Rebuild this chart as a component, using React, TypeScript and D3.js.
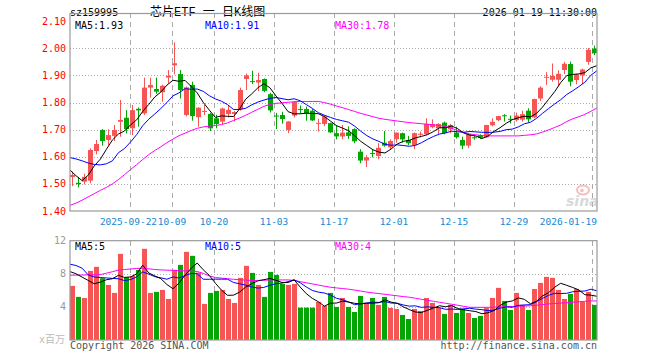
import React from "react";
import * as d3 from "d3";

// ---- data ----
const dates = [
  "2025-09-08","09-09","09-10","09-11","09-12","09-15","09-16","09-17","09-18","09-19",
  "2025-09-22","09-23","09-24","09-25","09-26","09-29","09-30","10-09","10-10","10-13",
  "10-14","10-15","10-16","10-17","10-20","10-21","10-22","10-23","10-24","10-27",
  "10-28","10-29","10-30","10-31","11-03","11-04","11-05","11-06","11-07","11-10",
  "11-11","11-12","11-13","11-14","11-17","11-18","11-19","11-20","11-21","11-24",
  "11-25","11-26","11-27","11-28","12-01","12-02","12-03","12-04","12-05","12-08",
  "12-09","12-10","12-11","12-12","12-15","12-16","12-17","12-18","12-19","12-22",
  "12-23","12-24","12-25","12-26","12-29","12-30","12-31","2026-01-05","01-06","01-07",
  "01-08","01-09","01-12","01-13","01-14","01-15","01-16","2026-01-19",
];
const tickIndex = [10, 17, 24, 34, 44, 54, 64, 74, 87];
const tickLabels = ["2025-09-22","10-09","10-20","11-03","11-17","12-01","12-15","12-29","2026-01-19"];

const opens = [
  1.525,1.504,1.508,1.512,1.621,1.699,1.662,1.677,1.729,1.744,
  1.705,1.777,1.760,1.855,1.850,1.838,1.892,1.937,1.905,1.754,
  1.865,1.746,1.766,1.758,1.742,1.730,1.758,1.758,1.775,1.887,
  1.879,1.874,1.887,1.831,1.752,1.754,1.699,1.752,1.776,1.776,
  1.770,1.722,1.721,1.724,1.687,1.675,1.690,1.702,1.619,1.586,
  1.614,1.603,1.652,1.635,1.665,1.687,1.662,1.643,1.681,1.683,
  1.709,1.705,1.726,1.701,1.689,1.662,1.641,1.672,1.680,1.672,
  1.716,1.735,1.753,1.740,1.735,1.737,1.770,1.745,1.815,1.892,
  1.884,1.884,1.920,1.942,1.883,1.900,1.950,1.999,
];
const highs = [
  1.545,1.526,1.538,1.631,1.662,1.702,1.701,1.717,1.809,1.772,
  1.791,1.782,1.892,1.892,1.892,1.866,1.920,2.022,1.920,1.859,
  1.877,1.783,1.791,1.762,1.755,1.781,1.790,1.769,1.855,1.907,
  1.917,1.910,1.889,1.836,1.762,1.766,1.731,1.804,1.789,1.785,
  1.776,1.740,1.754,1.726,1.717,1.717,1.712,1.705,1.628,1.606,
  1.628,1.650,1.695,1.664,1.690,1.689,1.677,1.689,1.693,1.742,
  1.738,1.724,1.730,1.721,1.711,1.674,1.685,1.680,1.683,1.718,
  1.742,1.751,1.757,1.752,1.763,1.770,1.779,1.814,1.860,1.912,
  1.944,1.919,1.950,1.951,1.906,1.925,2.001,2.010,
];
const lows = [
  1.492,1.487,1.498,1.502,1.609,1.641,1.643,1.658,1.674,1.686,
  1.680,1.711,1.754,1.818,1.832,1.803,1.871,1.904,1.815,1.749,
  1.733,1.711,1.754,1.695,1.705,1.718,1.745,1.730,1.770,1.846,
  1.868,1.842,1.838,1.763,1.702,1.722,1.687,1.745,1.760,1.733,
  1.732,1.693,1.713,1.688,1.664,1.665,1.666,1.650,1.576,1.562,
  1.598,1.591,1.637,1.625,1.652,1.652,1.643,1.628,1.672,1.680,
  1.705,1.680,1.683,1.687,1.667,1.628,1.632,1.663,1.666,1.670,
  1.712,1.731,1.730,1.723,1.730,1.730,1.727,1.742,1.806,1.865,
  1.877,1.862,1.905,1.860,1.867,1.868,1.939,1.975,
];
const closes = [
  1.533,1.499,1.526,1.625,1.647,1.658,1.680,1.699,1.736,1.702,
  1.772,1.771,1.855,1.865,1.840,1.862,1.899,1.945,1.846,1.856,
  1.750,1.781,1.769,1.705,1.721,1.778,1.773,1.765,1.846,1.900,
  1.876,1.883,1.843,1.771,1.749,1.739,1.730,1.802,1.773,1.760,
  1.734,1.725,1.749,1.690,1.675,1.689,1.677,1.657,1.586,1.598,
  1.612,1.633,1.641,1.658,1.689,1.664,1.650,1.687,1.685,1.721,
  1.721,1.721,1.687,1.717,1.672,1.641,1.683,1.670,1.670,1.717,
  1.729,1.750,1.750,1.738,1.752,1.757,1.738,1.813,1.855,1.895,
  1.898,1.906,1.943,1.877,1.904,1.922,1.995,1.982,
];
const volumes = [
  6.54,5.21,5.08,8.35,8.84,7.47,6.66,5.69,10.41,7.59,
  7.75,8.47,11.02,5.69,5.81,6.05,4.96,8.47,9.08,10.65,
  10.17,8.15,4.36,5.69,5.93,6.05,4.96,4.48,7.51,8.96,
  8.11,6.66,5.21,8.23,7.87,6.78,6.66,6.78,3.91,3.91,
  3.91,4.60,4.12,5.69,4.00,5.08,4.00,3.39,5.33,4.48,
  5.08,4.24,5.21,3.87,3.75,3.03,2.54,3.75,3.51,5.08,
  4.48,3.87,3.15,4.24,3.27,3.75,3.27,2.66,2.91,3.87,
  5.08,6.30,4.72,3.63,5.69,4.24,3.63,6.17,6.90,7.63,
  7.51,6.05,4.96,5.57,6.17,4.60,5.81,4.24,
];

// moving-average values visible before a full window exists
const ma5Lead = [1.551, 1.530, 1.512, 1.532];
const ma10Lead = [1.597, 1.592, 1.585, 1.577, 1.572, 1.570, 1.574, 1.585, 1.615];
const ma30Price = [
  1.421,1.429,1.440,1.452,1.464,1.476,1.487,1.500,1.516,1.534,
  1.553,1.571,1.590,1.608,1.623,1.637,1.652,1.665,1.678,1.687,
  1.697,1.705,1.710,1.713,1.715,1.719,1.725,1.734,1.743,1.753,
  1.764,1.775,1.786,1.793,1.797,1.799,1.801,1.803,1.804,1.804,
  1.804,1.804,1.800,1.794,1.787,1.781,1.774,1.767,1.760,1.754,
  1.748,1.742,1.738,1.735,1.732,1.729,1.726,1.724,1.722,1.720,
  1.718,1.715,1.712,1.705,1.697,1.690,1.684,1.681,1.678,1.677,
  1.677,1.677,1.677,1.677,1.677,1.679,1.681,1.684,1.691,1.699,
  1.708,1.717,1.730,1.740,1.748,1.756,1.768,1.780,
];
const volMa5Lead = [8.27, 8.0, 7.6, 7.2];
const volMa10Lead = [9.16, 9.0, 8.68, 7.87, 7.62, 7.55, 7.5, 7.45, 7.4];
const volMa30 = [
  7.83,7.84,7.85,7.87,7.88,7.90,8.07,8.25,8.44,8.52,
  8.58,8.64,8.66,8.60,8.52,8.47,8.44,8.42,8.39,8.36,
  8.32,8.28,8.05,7.75,7.55,7.48,7.40,7.34,7.29,7.24,
  7.19,7.20,7.22,7.25,7.26,7.26,7.26,7.20,7.05,6.92,
  6.78,6.64,6.50,6.37,6.29,6.22,6.14,6.03,5.91,5.79,
  5.69,5.61,5.52,5.43,5.34,5.25,5.17,5.05,4.92,4.80,
  4.68,4.56,4.44,4.32,4.20,4.07,3.95,3.95,3.95,3.95,
  3.97,4.00,4.03,4.05,4.08,4.10,4.13,4.20,4.28,4.36,
  4.41,4.46,4.51,4.56,4.62,4.68,4.72,4.72,
];

const priceTicks = [2.0, 1.9, 1.8, 1.7, 1.6, 1.5];
const priceLabels = [2.1, 2.0, 1.9, 1.8, 1.7, 1.6, 1.5, 1.4];
const volTicks = [8, 4];
const volLabels = [12, 8, 4];

const headerCode = "sz159995";
const headerTitle = "芯片ETF 一 日K线图";
const headerTime = "2026-01-19 11:30:00";
const maLegend = [
  { text: "MA5:1.93", color: "#000000" },
  { text: "MA10:1.91", color: "#0000ff" },
  { text: "MA30:1.78", color: "#ff00ff" },
];
const volLegend = [
  { text: "MA5:5", color: "#000000" },
  { text: "MA10:5", color: "#0000ff" },
  { text: "MA30:4", color: "#ff00ff" },
];

function movingAvg(values: number[], n: number, lead: number[]) {
  return values.map((_, i) =>
    i < n - 1 ? lead[i] : (d3.mean(values.slice(i - n + 1, i + 1)) as number)
  );
}

const RED = "#f65555";
const GREEN = "#06a506";
const GRID = "#aaaaaa";
const MONO = "'DejaVu Sans Mono', monospace";

export default function App() {
  const n = closes.length;
  const x = d3.scaleLinear().domain([0, n]).range([70, 598]);
  const xl = d3.scaleLinear().domain([0, n - 1]).range([70, 597]);
  const y = d3.scaleLinear().domain([1.4, 2.1]).range([211, 21.2]);
  const yv = d3.scaleLinear().domain([0, 12]).range([340, 240.7]);

  const ma5 = movingAvg(closes, 5, ma5Lead);
  const ma10 = movingAvg(closes, 10, ma10Lead);
  const vma5 = movingAvg(volumes, 5, volMa5Lead);
  const vma10 = movingAvg(volumes, 10, volMa10Lead);

  const pLine = d3.line<number>().x((_, i) => xl(i)).y((d) => y(d));
  const vLine = d3.line<number>().x((_, i) => xl(i)).y((d) => yv(d));

  const bw = 5;
  const up = (i: number) => closes[i] >= opens[i];

  // label placement: first label nudged left, last label kept inside the frame
  const labelPos = (ti: number, k: number) => {
    if (k === tickIndex.length - 1) return { x: 597, anchor: "end" };
    if (k === 0) return { x: x(ti) - 1.5, anchor: "middle" };
    return { x: x(ti), anchor: "middle" };
  };

  return (
    <svg
      width={660}
      height={360}
      style={{ position: "absolute", left: 0, top: 0, background: "#fff" }}
      fontFamily={MONO}
      fontSize={10}
    >
      <rect x={0} y={0} width={660} height={360} fill="#fff" />
      {/* header */}
      <text x={70} y={16} fill="#000">{headerCode}</text>
      <text x={150} y={16} fontSize={12} fontFamily="'Liberation Mono','Noto Sans CJK SC',monospace" fill="#000">
        {headerTitle}
      </text>
      <text x={597} y={16} textAnchor="end" fill="#000">{headerTime}</text>

      {/* main grid */}
      {priceTicks.map((t) => (
        <line key={"pg" + t} x1={70} x2={597} y1={Math.round(y(t)) + 0.5} y2={Math.round(y(t)) + 0.5}
          stroke={GRID} strokeDasharray="1,2" />
      ))}
      {tickIndex.map((ti) => (
        <line key={"vg" + ti} x1={Math.round(x(ti)) + 0.5} x2={Math.round(x(ti)) + 0.5} y1={13} y2={211}
          stroke={GRID} strokeDasharray="5,4" />
      ))}
      {/* volume grid */}
      {volTicks.map((t) => (
        <line key={"vtg" + t} x1={70} x2={597} y1={Math.round(yv(t)) + 0.5} y2={Math.round(yv(t)) + 0.5}
          stroke={GRID} strokeDasharray="1,2" />
      ))}
      {tickIndex.map((ti) => (
        <line key={"vvg" + ti} x1={Math.round(x(ti)) + 0.5} x2={Math.round(x(ti)) + 0.5} y1={241} y2={340}
          stroke={GRID} strokeDasharray="5,4" />
      ))}

      {/* candles */}
      {closes.map((c, i) => {
        const col = up(i) ? RED : GREEN;
        const x0 = Math.round(x(i));
        const top = Math.min(y(opens[i]), y(c));
        const h = Math.max(1, Math.abs(y(opens[i]) - y(c)));
        return (
          <g key={"c" + i}>
            <line x1={x0 + 2.5} x2={x0 + 2.5} y1={y(highs[i])} y2={y(lows[i])} stroke={col} strokeWidth={1} />
            <rect x={x0} y={top} width={bw} height={h} fill={col} />
          </g>
        );
      })}

      {/* price MAs */}
      <path d={pLine(ma30Price) || ""} fill="none" stroke="#ff00ff" strokeWidth={1} />
      <path d={pLine(ma10) || ""} fill="none" stroke="#0000ff" strokeWidth={1} />
      <path d={pLine(ma5) || ""} fill="none" stroke="#000000" strokeWidth={1} />

      {/* volume bars */}
      {volumes.map((v, i) => (
        <rect key={"v" + i} x={Math.round(x(i))} y={yv(v)} width={bw} height={yv(0) - yv(v)}
          fill={up(i) ? RED : GREEN} />
      ))}
      <path d={vLine(volMa30) || ""} fill="none" stroke="#ff00ff" strokeWidth={1} />
      <path d={vLine(vma10) || ""} fill="none" stroke="#0000ff" strokeWidth={1} />
      <path d={vLine(vma5) || ""} fill="none" stroke="#000000" strokeWidth={1} />

      {/* frames */}
      <rect x={70} y={13.5} width={527} height={197.5} fill="none" stroke="#999" strokeWidth={1.2} />
      <rect x={70} y={240.7} width={527} height={99.3} fill="none" stroke="#999" strokeWidth={1.2} />

      {/* price labels */}
      {priceLabels.map((t) => (
        <text key={"pl" + t} x={66} y={y(t) + 3.5} textAnchor="end" fill="#ff0000">
          {t.toFixed(2)}
        </text>
      ))}
      {/* date labels */}
      {tickIndex.map((ti, k) => {
        const p = labelPos(ti, k);
        return (
          <text key={"dl" + ti} x={p.x} y={225} textAnchor={p.anchor} fontSize={9.5} fill="#1587d2">
            {tickLabels[k]}
          </text>
        );
      })}
      {/* volume labels */}
      {volLabels.map((t) => (
        <text key={"vl" + t} x={66} y={yv(t) + 3.5} textAnchor="end" fill="#999">
          {t}
        </text>
      ))}
      <text x={65} y={343} textAnchor="end" fill="#bbb" fontFamily="'DejaVu Sans Mono','Noto Sans CJK SC',monospace">x百万</text>

      {/* legends */}
      {maLegend.map((m, k) => (
        <text key={"ml" + k} x={75 + k * 130} y={29} fill={m.color}>{m.text}</text>
      ))}
      {volLegend.map((m, k) => (
        <text key={"vml" + k} x={75 + k * 130} y={250} fill={m.color}>{m.text}</text>
      ))}

      {/* watermark */}
      <g opacity={0.55}>
        <ellipse cx={583} cy={190} rx={6} ry={4.5} fill="none" stroke="#f08a8a" strokeWidth={2} />
        <circle cx={582} cy={190.5} r={1.8} fill="#f08a8a" />
        <text x={566} y={206} fontFamily="'DejaVu Sans', sans-serif" fontWeight="bold" fontStyle="italic" fontSize={14} fill="#bbbbbb">sina</text>
      </g>

      {/* footer */}
      <text x={70} y={349} fill="#555">Copyright 2026 SINA.COM</text>
      <text x={597} y={349} textAnchor="end" fill="#555">http://finance.sina.com.cn</text>
    </svg>
  );
}
